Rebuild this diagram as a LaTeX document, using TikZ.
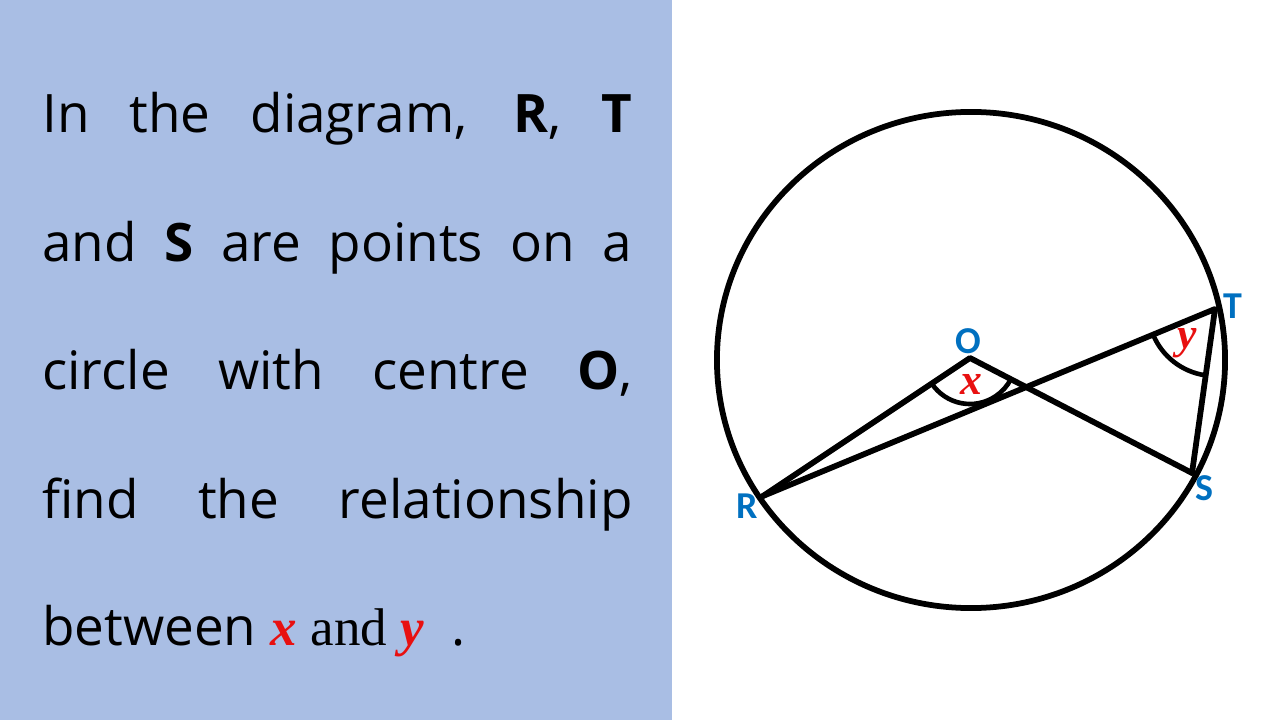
\documentclass[tikz,border=0pt]{standalone}
\usepackage{fontspec}
\setmainfont{Open Sans}
\newfontfamily\labfont{Carlito}
\newfontfamily\serfont{Liberation Serif}
\usetikzlibrary{angles}
\definecolor{panel}{RGB}{169,190,228}
\definecolor{lblue}{RGB}{0,112,192}
\definecolor{vred}{RGB}{232,16,16}
\tikzset{
  txt/.style={anchor=base west, inner sep=0pt, font=\fontsize{37.7}{40}\selectfont},
  ptlab/.style={inner sep=0pt, text=lblue, font=\labfont\bfseries\fontsize{27}{28}\selectfont},
  anglab/.style={inner sep=0pt, text=vred, font=\serfont\bfseries\itshape\fontsize{31}{32}\selectfont},
  geo/.style={line width=4.1pt, line join=round, line cap=round},
  angarc/.style={draw, line width=3.3pt}
}
\newcommand{\vx}{{\color{vred}\serfont\bfseries\itshape x}}
\newcommand{\vy}{{\color{vred}\serfont\bfseries\itshape y}}
\begin{document}
\begin{tikzpicture}[x=0.025cm, y=-0.025cm]
\useasboundingbox (0,0) rectangle (1280,720);
\fill[white] (0,0) rectangle (1280,720);
\fill[panel] (0,0) rectangle (672,720);

% text
\node[txt] (l1) at (42,133) {\makebox[14.75cm][s]{In the diagram, \textbf{R}, \textbf{T}}};
\node[txt] (l2) at (42,262) {\makebox[14.75cm][s]{and \textbf{S} are points on a}};
\node[txt] (l3) at (42,390) {\makebox[14.75cm][s]{circle with centre \textbf{O},}};
\node[txt] (l4) at (42,518) {\makebox[14.75cm][s]{find the relationship}};
\node[txt] (l5) at (42,645) {between \vx\ {\serfont and} \vy\ \ .};

% geometry
\coordinate (C) at (971,360);
\coordinate (O) at (970,358);
\coordinate (R) at (763,496);
\coordinate (T) at (1215,309);
\coordinate (S) at (1192,473);

\draw[geo] (C) ellipse [x radius=6.35cm, y radius=6.2cm];
\draw[geo] (R) -- (O) -- (S);
\draw[geo] (R) -- (T) -- (S);

\pic[angarc, angle radius=1.15cm] {angle = R--O--S};
\pic[angarc, angle radius=1.675cm] {angle = R--T--S};

% labels
\node[ptlab] (lO) at (968,341) {O};
\node[ptlab] (lT) at (1233,306) {T};
\node[ptlab] (lR) at (747,506) {R};
\node[ptlab] (lS) at (1204,488) {S};
\node[anglab] (lx) at (971,384) {x};
\node[anglab] (ly) at (1187,343) {y};
\end{tikzpicture}
\end{document}
